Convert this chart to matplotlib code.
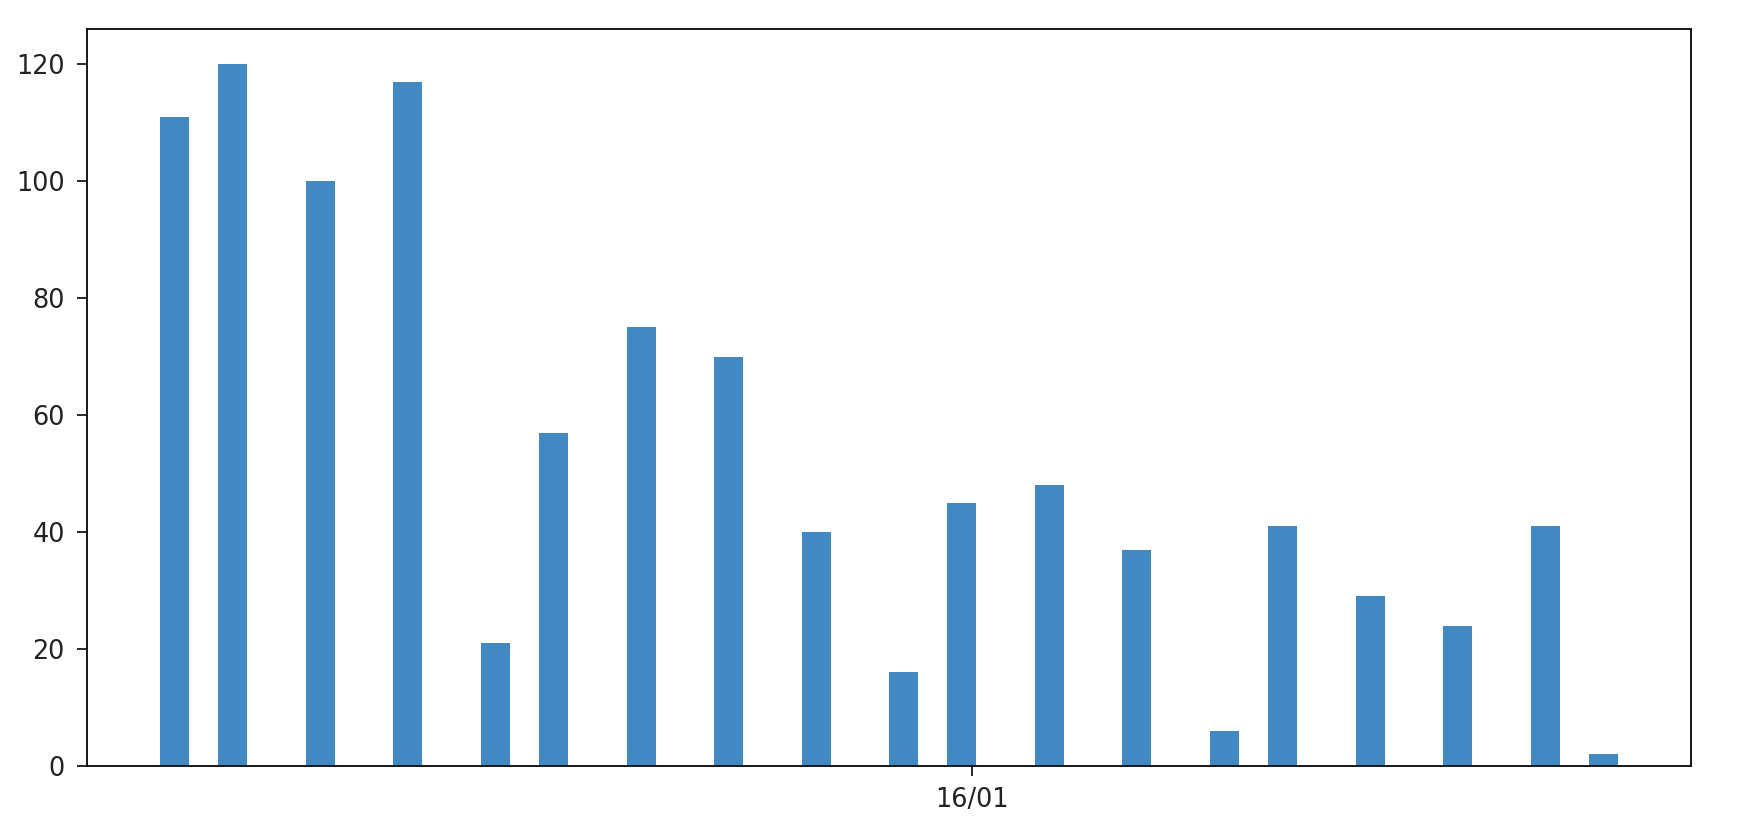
import numpy as np
import pandas as pd
import matplotlib
matplotlib.use("Agg")
import matplotlib.pyplot as plt
import matplotlib.dates as mdates

# sample days (each bar sits at 16:00, i.e. local midnight in UTC+8)
days = ["2015-12-19", "2015-12-21", "2015-12-24", "2015-12-27", "2015-12-30",
        "2016-01-01", "2016-01-04", "2016-01-07", "2016-01-10", "2016-01-13",
        "2016-01-15", "2016-01-18", "2016-01-21", "2016-01-24", "2016-01-26",
        "2016-01-29", "2016-02-01", "2016-02-04", "2016-02-06"]
counts = [111, 120, 100, 117, 21, 57, 75, 70, 40, 16,
          45, 48, 37, 6, 41, 29, 24, 41, 2]

dates = pd.to_datetime(days) + pd.Timedelta(hours=16)

plt.rcParams['font.family'] = ['DejaVu Sans']
plt.rcParams['font.size'] = 10.8

fig = plt.figure(figsize=(1740 / 170, 818 / 170), dpi=170)
ax = fig.add_axes([87 / 1740, 1 - 766 / 818, (1691 - 87) / 1740, (766 - 29) / 818])

ax.bar(dates.to_pydatetime(), counts, width=1.0, color='#4288c2')

ax.xaxis.set_major_locator(mdates.MonthLocator(bymonthday=16))
ax.xaxis.set_major_formatter(mdates.DateFormatter('%d/%m'))
ax.tick_params(length=4.2, pad=4.5, colors='#222222', labelcolor='#222222')
ax.tick_params(axis='y', pad=5.2)
for s in ax.spines.values():
    s.set_color('#111111')

fig.savefig('out.png', dpi=170)
